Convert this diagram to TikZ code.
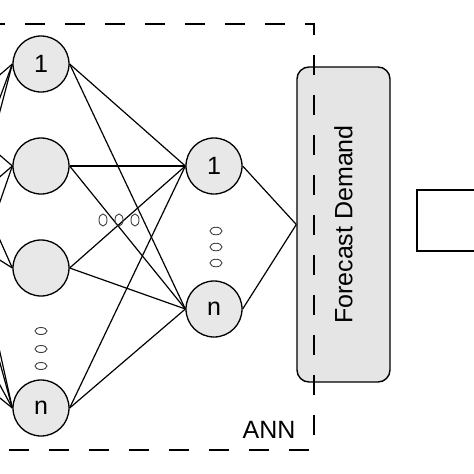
\documentclass[tikz,border=0pt]{standalone}
\usepackage{fontspec}
\setmainfont{Liberation Sans}
\definecolor{nodefill}{RGB}{232,232,232}
\definecolor{boxfill}{RGB}{229,229,229}
\definecolor{dotcol}{RGB}{60,60,60}
\begin{document}
\begin{tikzpicture}[x=1pt,y=-1pt,
  neuron/.style={circle,draw=black,fill=nodefill,line width=1.3pt,minimum size=56pt,inner sep=0pt,font=\fontsize{25}{30}\selectfont},
  link/.style={draw=black,line width=1.2pt},
  fdbox/.style={draw=black,fill=boxfill,line width=1.4pt,rounded corners=12pt,minimum width=93pt,minimum height=315pt,inner sep=0pt},
  outbox/.style={draw=black,fill=white,line width=1.6pt,minimum width=80pt,minimum height=61pt,inner sep=0pt},
  lbl/.style={font=\fontsize{25}{30}\selectfont,inner sep=0pt},
  dot/.style={draw=dotcol,line width=0.9pt},
  annline/.style={draw=black,line width=1.7pt,dash pattern=on 20pt off 20pt}]
\useasboundingbox (0,0) rectangle (474,474);

% hidden layer 1
\node[neuron] (a1) at (41,64) {1};
\node[neuron] (a2) at (41,166) {};
\node[neuron] (a3) at (41,268) {};
\node[neuron] (an) at (41,408) {n};
% hidden layer 2
\node[neuron] (b1) at (214,166) {1};
\node[neuron] (bn) at (214,309) {n};

% forecast box and output box
\node[fdbox] (fd) at (343.5,224.5) {};
\node[lbl,rotate=90] (fdt) at (fd.center) {Forecast Demand};
\node[outbox] (rb) at (457,220.5) {};

% incoming lines from the left (off picture)
\coordinate (i1) at (-5,79);
\coordinate (i2) at (-5,111);
\coordinate (i3) at (-5,130);
\coordinate (i4) at (-5,151);
\coordinate (i5) at (-5,181);
\coordinate (i6) at (-5,216);
\coordinate (i7) at (-5,229);
\coordinate (i8) at (-5,257);
\coordinate (i9) at (-5,330);
\coordinate (i10) at (-5,345);
\coordinate (i11) at (-5,376);
\coordinate (i12) at (-5,394);
\foreach \c in {i1,i2,i3} \draw[link] (\c) -- (a1.west);
\foreach \c in {i4,i5,i6} \draw[link] (\c) -- (a2.west);
\foreach \c in {i7,i8} \draw[link] (\c) -- (a3.west);
\foreach \c in {i9,i10,i11,i12} \draw[link] (\c) -- (an.west);

% layer 1 to layer 2
\foreach \s in {a1,a2,a3,an}{
  \draw[link] (\s.east) -- (b1.west);
  \draw[link] (\s.east) -- (bn.west);
}
% layer 2 to forecast
\draw[link] (b1.east) -- (fd.west);
\draw[link] (bn.east) -- (fd.west);

% ellipsis dots
\draw[dot] (41,331) ellipse (6pt and 3.5pt);
\draw[dot] (41,349) ellipse (6pt and 3.5pt);
\draw[dot] (41,366) ellipse (6pt and 3.5pt);
\draw[dot] (216,231) ellipse (6pt and 3.8pt);
\draw[dot] (216,247) ellipse (6pt and 3.8pt);
\draw[dot] (216,263) ellipse (6pt and 3.8pt);
\draw[dot] (103,220) ellipse (4pt and 6pt);
\draw[dot] (119,220) ellipse (4pt and 6pt);
\draw[dot] (135,220) ellipse (4pt and 6pt);

% ANN dashed frame
\coordinate (f1) at (-15,24);
\coordinate (f2) at (314,24);
\coordinate (f3) at (314,450);
\coordinate (f4) at (-15,450);
\draw[annline] (f1) -- (f2) -- (f3) -- (f4);
\node[lbl] (ann) at (269,430) {ANN};
\end{tikzpicture}
\end{document}
